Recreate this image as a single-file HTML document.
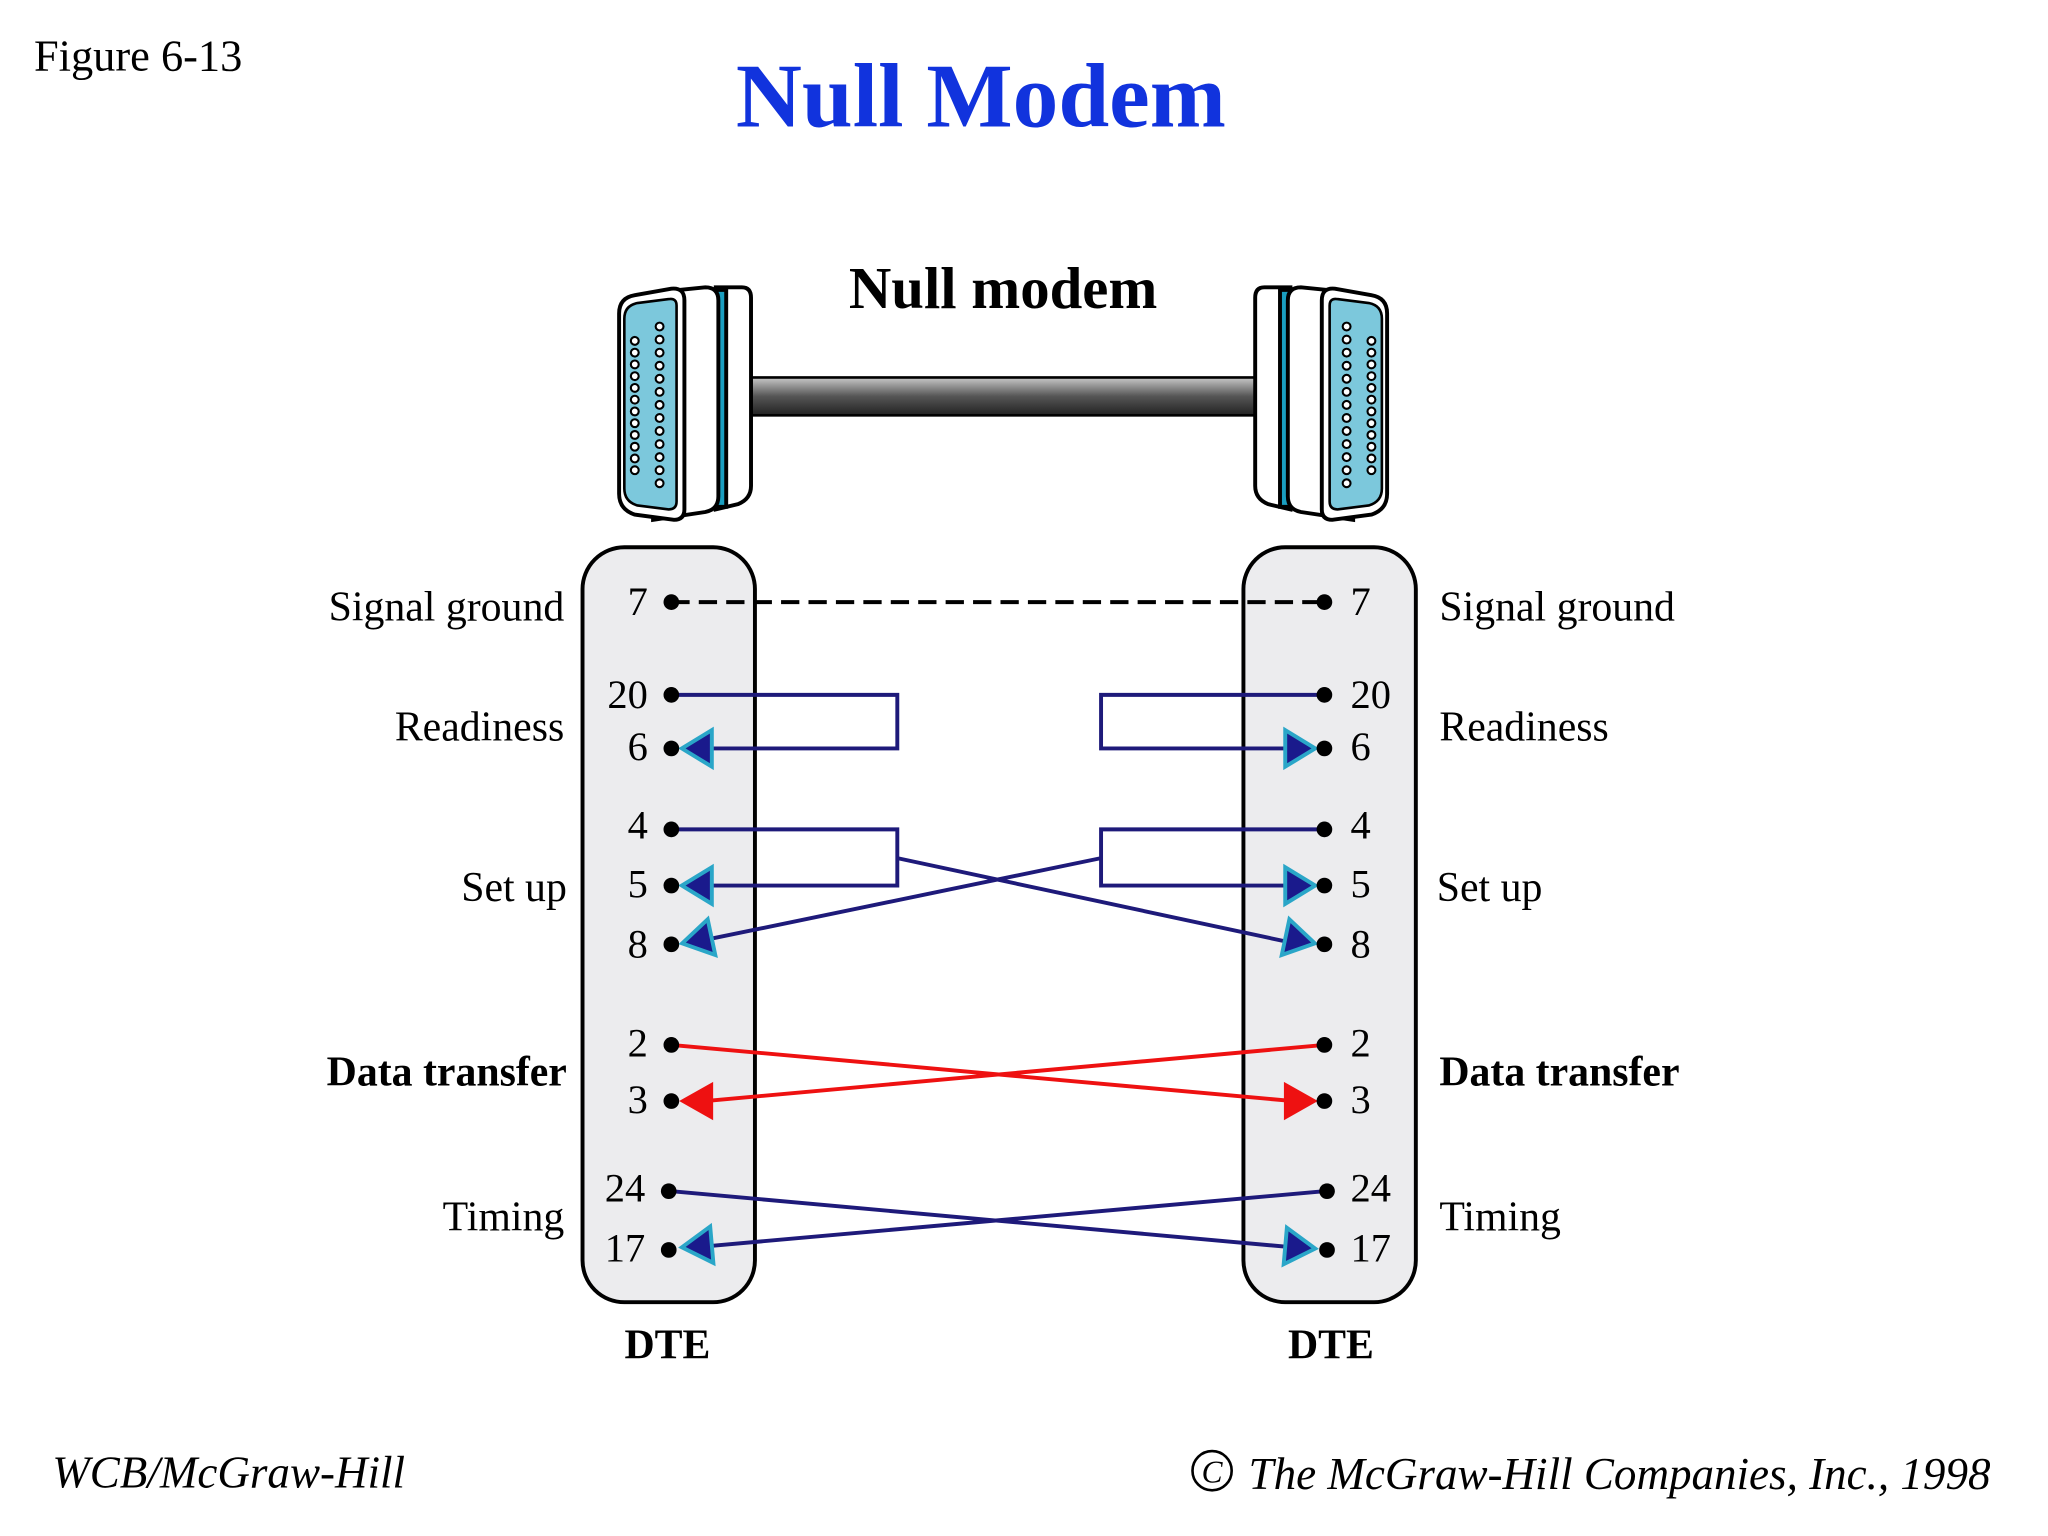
<!DOCTYPE html>
<html><head><meta charset="utf-8"><style>
html,body{margin:0;padding:0;background:#fff;}
svg{display:block;}
text{font-family:"Liberation Serif",serif;}
</style></head><body>
<svg width="2048" height="1536" viewBox="0 0 1568 1176" xmlns="http://www.w3.org/2000/svg">
<defs>
<linearGradient id="cab" x1="0" y1="0" x2="0" y2="1">
<stop offset="0" stop-color="#c8c8c8"/><stop offset="0.5" stop-color="#555"/><stop offset="1" stop-color="#222"/>
</linearGradient>
<g id="conn">
<path d="M548,220 H568 Q575,220 575,228 V372 Q575,382 565,386 L548,390 Z" fill="#fff" stroke="#000" stroke-width="3"/>
<path d="M538,222 H556 V388 H538 Z" fill="#1a9ec0" stroke="#000" stroke-width="3"/>
<path d="M500,224 L540,220 Q550,220 550,230 V380 Q550,390 540,392 L500,398 Z" fill="#fff" stroke="#000" stroke-width="3"/>
<path d="M486,226 Q474,228 474,240 V378 Q474,390 486,394 L516,398 Q524,398 524,390 V230 Q524,220 514,221 Z" fill="#fff" stroke="#000" stroke-width="3"/>
<path d="M488,232 Q478,234 478,244 V374 Q478,384 488,387 L512,390 Q518,390 518,384 V234 Q518,228 512,229 Z" fill="#7cc8dc" stroke="#000" stroke-width="2"/>
<g fill="#fff" stroke="#000" stroke-width="1.6">
<circle cx="486" cy="261" r="3"/><circle cx="486" cy="270" r="3"/><circle cx="486" cy="279" r="3"/><circle cx="486" cy="288" r="3"/><circle cx="486" cy="297" r="3"/><circle cx="486" cy="306" r="3"/><circle cx="486" cy="315" r="3"/><circle cx="486" cy="324" r="3"/><circle cx="486" cy="333" r="3"/><circle cx="486" cy="342" r="3"/><circle cx="486" cy="351" r="3"/><circle cx="486" cy="360" r="3"/>
<circle cx="505" cy="250" r="3"/><circle cx="505" cy="260" r="3"/><circle cx="505" cy="270" r="3"/><circle cx="505" cy="280" r="3"/><circle cx="505" cy="290" r="3"/><circle cx="505" cy="300" r="3"/><circle cx="505" cy="310" r="3"/><circle cx="505" cy="320" r="3"/><circle cx="505" cy="330" r="3"/><circle cx="505" cy="340" r="3"/><circle cx="505" cy="350" r="3"/><circle cx="505" cy="360" r="3"/><circle cx="505" cy="370" r="3"/>
</g>
</g>
<path id="ahl" d="M522,0 L545,-14 L545,14 Z" fill="#1a1a8c" stroke="#2aa6c8" stroke-width="3"/>
<path id="ahr" d="M1007,0 L984,-14 L984,14 Z" fill="#1a1a8c" stroke="#2aa6c8" stroke-width="3"/>
</defs>

<text x="26" y="54" font-size="34">Figure 6-13</text>
<text x="751" y="97" font-size="70" font-weight="bold" fill="#1133dd" text-anchor="middle">Null Modem</text>
<text x="768" y="236" font-size="45" font-weight="bold" text-anchor="middle">Null modem</text>

<rect x="573" y="289" width="392" height="29" fill="url(#cab)" stroke="#000" stroke-width="2"/>
<use href="#conn"/>
<g transform="translate(1536,0) scale(-1,1)"><use href="#conn"/></g>

<rect x="446" y="419" width="132" height="578" rx="32" fill="#ececee" stroke="#000" stroke-width="3"/>
<rect x="952" y="419" width="132" height="578" rx="32" fill="#ececee" stroke="#000" stroke-width="3"/>

<line x1="514" y1="461" x2="1014" y2="461" stroke="#000" stroke-width="3" stroke-dasharray="14,7"/>

<g fill="none" stroke="#1e1a7a" stroke-width="3">
<polyline points="514,532 687,532 687,573 545,573"/>
<polyline points="1014,532 843,532 843,573 984,573"/>
<polyline points="514,635 687,635 687,678 545,678"/>
<polyline points="1014,635 843,635 843,678 984,678"/>
<line x1="687" y1="657" x2="990" y2="722"/>
<line x1="843" y1="657" x2="543" y2="719"/>
<line x1="514" y1="912" x2="990" y2="955"/>
<line x1="1014" y1="912" x2="543" y2="954"/>
</g>
<g fill="none" stroke="#ee1111" stroke-width="3">
<line x1="514" y1="800" x2="990" y2="843"/>
<line x1="1014" y1="800" x2="540" y2="843"/>
</g>

<use href="#ahl" transform="translate(0,573)"/>
<use href="#ahl" transform="translate(0,678)"/>
<use href="#ahl" transform="translate(533,720) rotate(-12) translate(-533,0)"/>
<use href="#ahl" transform="translate(533,954) rotate(-5) translate(-533,0)"/>
<use href="#ahr" transform="translate(0,573)"/>
<use href="#ahr" transform="translate(0,678)"/>
<use href="#ahr" transform="translate(996,720) rotate(12) translate(-996,0)"/>
<use href="#ahr" transform="translate(996,955) rotate(5) translate(-996,0)"/>
<path d="M522,843 L545,830 L545,856 Z" fill="#ee1111" stroke="#ee1111" stroke-width="2"/>
<path d="M1007,843 L984,830 L984,856 Z" fill="#ee1111" stroke="#ee1111" stroke-width="2"/>

<g fill="#000">
<circle cx="514" cy="461" r="6"/><circle cx="514" cy="532" r="6"/><circle cx="514" cy="573" r="6"/><circle cx="514" cy="635" r="6"/><circle cx="514" cy="678" r="6"/><circle cx="514" cy="723" r="6"/><circle cx="514" cy="800" r="6"/><circle cx="514" cy="843" r="6"/><circle cx="512" cy="912" r="6"/><circle cx="512" cy="957" r="6"/>
<circle cx="1014" cy="461" r="6"/><circle cx="1014" cy="532" r="6"/><circle cx="1014" cy="573" r="6"/><circle cx="1014" cy="635" r="6"/><circle cx="1014" cy="678" r="6"/><circle cx="1014" cy="723" r="6"/><circle cx="1014" cy="800" r="6"/><circle cx="1014" cy="843" r="6"/><circle cx="1016" cy="912" r="6"/><circle cx="1016" cy="957" r="6"/>
</g>

<g font-size="31" text-anchor="end">
<text x="496" y="471">7</text><text x="496" y="542">20</text><text x="496" y="582">6</text><text x="496" y="642">4</text><text x="496" y="687">5</text><text x="496" y="733">8</text><text x="496" y="809">2</text><text x="496" y="852">3</text><text x="494" y="920">24</text><text x="494" y="966">17</text>
</g>
<g font-size="31">
<text x="1034" y="471">7</text><text x="1034" y="542">20</text><text x="1034" y="582">6</text><text x="1034" y="642">4</text><text x="1034" y="687">5</text><text x="1034" y="733">8</text><text x="1034" y="809">2</text><text x="1034" y="852">3</text><text x="1034" y="920">24</text><text x="1034" y="966">17</text>
</g>

<g font-size="32" text-anchor="end">
<text x="432" y="475">Signal ground</text>
<text x="432" y="567">Readiness</text>
<text x="434" y="690">Set up</text>
<text x="434" y="831" font-weight="bold">Data transfer</text>
<text x="432" y="942">Timing</text>
</g>
<g font-size="32">
<text x="1102" y="475">Signal ground</text>
<text x="1102" y="567">Readiness</text>
<text x="1100" y="690">Set up</text>
<text x="1102" y="831" font-weight="bold">Data transfer</text>
<text x="1102" y="942">Timing</text>
</g>

<text x="511" y="1040" font-size="32" font-weight="bold" text-anchor="middle">DTE</text>
<text x="1019" y="1040" font-size="32" font-weight="bold" text-anchor="middle">DTE</text>

<text x="40" y="1139" font-size="34.5" font-style="italic">WCB/McGraw-Hill</text>
<text x="1524" y="1140" font-size="34.5" font-style="italic" text-anchor="end">The McGraw-Hill Companies, Inc., 1998</text>
<circle cx="928" cy="1126" r="15" fill="none" stroke="#000" stroke-width="2"/>
<text x="928" y="1135" font-size="24" font-style="italic" text-anchor="middle">C</text>
</svg>
</body></html>
